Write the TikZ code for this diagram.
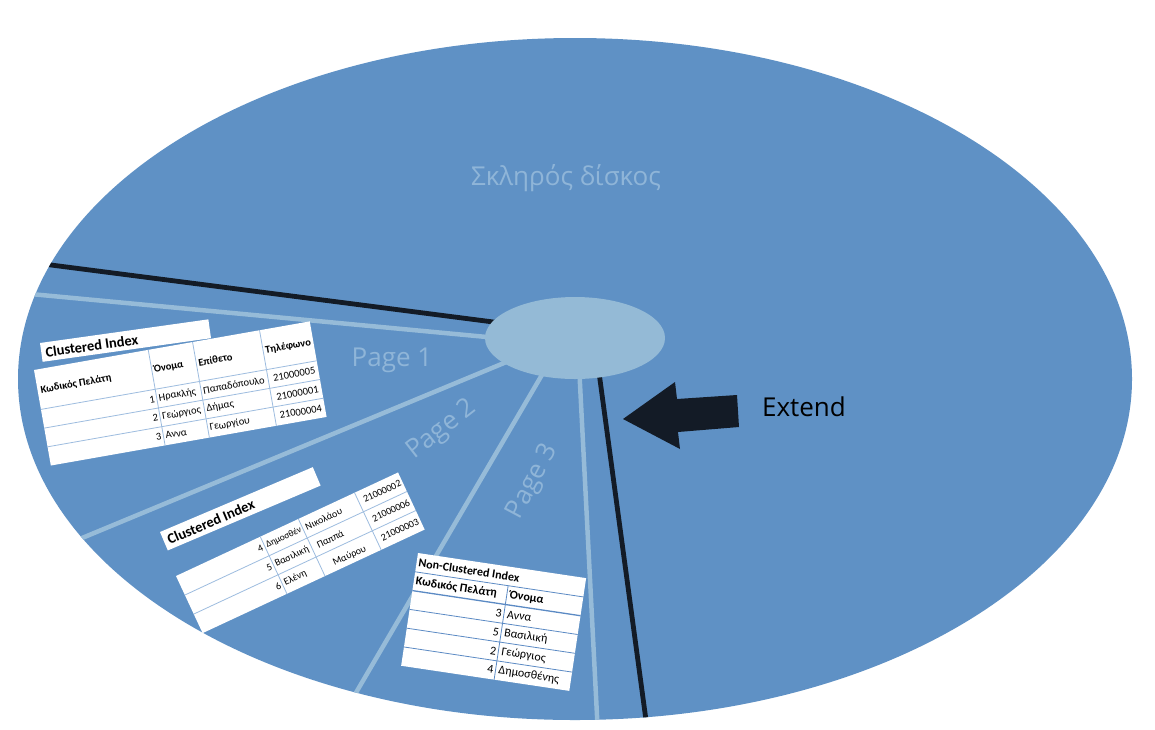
\documentclass[tikz,border=0pt]{standalone}
\usepackage{fontspec}
\setmainfont{Open Sans}
\newfontfamily\tabfont{Carlito}
\definecolor{diskblue}{HTML}{5F91C5}
\definecolor{hubblue}{HTML}{94BAD6}
\definecolor{lightstroke}{HTML}{96BBD8}
\definecolor{labelblue}{HTML}{8FB5D8}
\definecolor{darkstroke}{HTML}{131B26}
\definecolor{gridl}{HTML}{9DBCDF}
\definecolor{gridd}{HTML}{5B8AC4}
\begin{document}
\begin{tikzpicture}[x=1pt,y=-1pt,
  darkline/.style={draw=darkstroke, line width=4.8pt},
  lightline/.style={draw=lightstroke, line width=4.5pt},
  pagelabel/.style={text=labelblue, font=\fontsize{26}{30}\selectfont, inner sep=0pt},
  cell/.style={inner sep=0pt, text=black, font=\tabfont\fontsize{10.5}{12}\selectfont},
  hcell/.style={inner sep=0pt, text=black, font=\tabfont\bfseries\fontsize{10.5}{12}\selectfont},
  tcell/.style={inner sep=0pt, text=black, font=\tabfont\bfseries\fontsize{14.5}{16}\selectfont},
  scell/.style={inner sep=0pt, text=black, font=\tabfont\fontsize{10}{12}\selectfont},
  ncell/.style={inner sep=0pt, text=black, font=\tabfont\fontsize{12}{14}\selectfont},
  nhcell/.style={inner sep=0pt, text=black, font=\tabfont\bfseries\fontsize{12}{14}\selectfont},
  gline/.style={draw=gridl, line width=0.8pt},
  gdline/.style={draw=gridd, line width=0.8pt},
]
\useasboundingbox (0,0) rectangle (1155,729);
\fill[white] (0,0) rectangle (1155,729);

% disk
\coordinate (diskc) at (575,379);
\fill[diskblue] (diskc) ellipse [x radius=557pt, y radius=341pt];

% hub centre and line end points
\coordinate (hubc) at (575,338);
\coordinate (b1o) at (20,261);   \coordinate (b1i) at (540,328);
\coordinate (l1o) at (20,293);   \coordinate (l1i) at (540,342);
\coordinate (l2o) at (70,543);   \coordinate (l2i) at (545,346);
\coordinate (l3o) at (340,720);  \coordinate (l3i) at (560,344);
\coordinate (l4o) at (598,735);  \coordinate (l4i) at (578,345);
\coordinate (b2o) at (648,735);  \coordinate (b2i) at (598,365);

\begin{scope}
  \clip (diskc) ellipse [x radius=557pt, y radius=341pt];
  \draw[darkline] (b1o) -- (b1i);
  \draw[lightline] (l1o) -- (l1i);
  \draw[lightline] (l2o) -- (l2i);
  \draw[lightline] (l3o) -- (l3i);
  \draw[lightline] (l4o) -- (l4i);
  \draw[darkline] (b2o) -- (b2i);
\end{scope}

\fill[hubblue] (hubc) ellipse [x radius=90pt, y radius=41pt];

% labels
\node[pagelabel] (disk) at (566,178) {Σκληρός δίσκος};
\node[pagelabel] (p1) at (392,360) {Page 1};
\node[pagelabel, rotate=38] (p2) at (442,430) {Page 2};
\node[pagelabel, rotate=62] (p3) at (533,482) {Page 3};
\node[inner sep=0pt, text=black, font=\fontsize{26}{30}\selectfont] (ext) at (804,407) {Extend};

% arrow
\fill[darkstroke] (623,419) -- (675,382) -- (677,399) -- (737,395) -- (739,427) -- (678,432) -- (680,449) -- cycle;

% ---------- table 1 title
\begin{scope}[shift={(40,343)}, rotate=8, transform shape]
  \fill[white] (0,0) rectangle (170,19);
  \node[tcell, anchor=west] (t1t) at (4,10) {Clustered Index};
\end{scope}
% ---------- table 1
\begin{scope}[shift={(34,370)}, rotate=10, transform shape]
  \fill[white] (0,0) rectangle (280,97);
  \foreach \yy in {40,59,78} \draw[gline] (0,\yy) -- (280,\yy);
  \foreach \xx in {116,161,229} \draw[gline] (\xx,0) -- (\xx,97);
  \node[hcell, anchor=west] (t1h1) at (3,21) {Κωδικός Πελάτη};
  \node[hcell, anchor=west] (t1h2) at (118,21) {Όνομα};
  \node[hcell, anchor=west] (t1h3) at (163,21) {Επίθετο};
  \node[hcell, anchor=west] (t1h4) at (231,21) {Τηλέφωνο};
  \node[cell, anchor=east] (t1a1) at (114,49.5) {1};
  \node[cell, anchor=west] (t1b1) at (118,49.5) {Ηρακλής};
  \node[cell, anchor=west] (t1c1) at (163,49.5) {Παπαδόπουλο};
  \node[cell, anchor=east] (t1d1) at (277,49.5) {21000005};
  \node[cell, anchor=east] (t1a2) at (114,68.5) {2};
  \node[cell, anchor=west] (t1b2) at (118,68.5) {Γεώργιος};
  \node[cell, anchor=west] (t1c2) at (163,68.5) {Δήμας};
  \node[cell, anchor=east] (t1d2) at (277,68.5) {21000001};
  \node[cell, anchor=east] (t1a3) at (114,87.5) {3};
  \node[cell, anchor=west] (t1b3) at (118,87.5) {Αννα};
  \node[cell, anchor=west] (t1c3) at (163,87.5) {Γεωργίου};
  \node[cell, anchor=east] (t1d3) at (277,87.5) {21000004};
\end{scope}

% ---------- table 2 title
\begin{scope}[shift={(160,532)}, rotate=23, transform shape]
  \fill[white] (0,0) rectangle (166,20);
  \node[tcell, anchor=west] (t2t) at (4,10.5) {Clustered Index};
\end{scope}
% ---------- table 2
\begin{scope}[shift={(176,576)}, rotate=25, transform shape]
  \fill[white] (0,0) rectangle (245,63);
  \foreach \yy in {21,42} \draw[gline] (0,\yy) -- (245,\yy);
  \foreach \xx in {93,135,197} \draw[gline] (\xx,0) -- (\xx,63);
  \node[scell, anchor=east] (t2a1) at (91,10.5) {4};
  \node[scell, anchor=west, font=\tabfont\fontsize{9.3}{11}\selectfont] (t2b1) at (94.5,10.5) {Δημοσθέν};
  \node[scell, anchor=west] (t2c1) at (138,10.5) {Νικολάου};
  \node[scell, anchor=east] (t2d1) at (243,10.5) {21000002};
  \node[scell, anchor=east] (t2a2) at (91,31.5) {5};
  \node[scell, anchor=west] (t2b2) at (95,31.5) {Βασιλική};
  \node[scell, anchor=west] (t2c2) at (141,31.5) {Παππά};
  \node[scell, anchor=east] (t2d2) at (243,31.5) {21000006};
  \node[scell, anchor=east] (t2a3) at (91,52.5) {6};
  \node[scell, anchor=west] (t2b3) at (95,52.5) {Ελένη};
  \node[scell, anchor=west] (t2c3) at (148,55) {Μαύρου};
  \node[scell, anchor=east] (t2d3) at (243,52.5) {21000003};
\end{scope}

% ---------- table 3
\begin{scope}[shift={(418,553)}, rotate=-8.5, transform shape]
  \fill[white] (0,0) rectangle (170,114);
  \draw[gdline] (0,19) -- (170,19);
  \draw[gdline, line width=1.3pt] (0,38) -- (170,38);
  \foreach \yy in {57,76,95} \draw[gdline] (0,\yy) -- (170,\yy);
  \draw[gdline] (94,19) -- (94,114);
  \node[nhcell, anchor=west] (t3t) at (2,9.5) {Non-Clustered Index};
  \node[nhcell, anchor=west] (t3h1) at (2,28.5) {Κωδικός Πελάτη};
  \node[nhcell, anchor=west] (t3h2) at (97,28.5) {Όνομα};
  \node[ncell, anchor=east] (t3a1) at (92,47.5) {3};
  \node[ncell, anchor=west] (t3b1) at (97,47.5) {Αννα};
  \node[ncell, anchor=east] (t3a2) at (92,66.5) {5};
  \node[ncell, anchor=west] (t3b2) at (97,66.5) {Βασιλική};
  \node[ncell, anchor=east] (t3a3) at (92,85.5) {2};
  \node[ncell, anchor=west] (t3b3) at (97,85.5) {Γεώργιος};
  \node[ncell, anchor=east] (t3a4) at (92,104.5) {4};
  \node[ncell, anchor=west] (t3b4) at (97,104.5) {Δημοσθένης};
\end{scope}
\end{tikzpicture}
\end{document}
